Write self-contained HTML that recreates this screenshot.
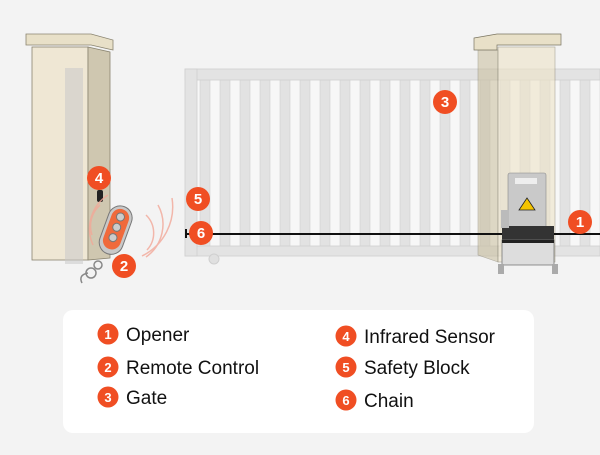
<!DOCTYPE html>
<html><head><style>
body{margin:0;width:600px;height:450px;overflow:hidden;background:#f3f3f3;font-family:"Liberation Sans",sans-serif}
</style></head><body>
<svg width="600" height="450" viewBox="0 0 600 450" xmlns="http://www.w3.org/2000/svg">
<defs>
<pattern id="pk" x="197" y="0" width="20" height="450" patternUnits="userSpaceOnUse">
<rect x="0" y="0" width="20" height="450" fill="#f7f7f7"/>
<rect x="3" y="0" width="10" height="450" fill="#e2e2e2" stroke="#d0d0d0" stroke-width="0.6"/>
</pattern>
</defs>
<rect width="600" height="450" fill="#f3f3f3"/>
<!-- gate -->
<rect x="197" y="80" width="403" height="166" fill="url(#pk)"/>
<rect x="185" y="69" width="415" height="11" fill="#e3e3e3" stroke="#cfcfcf" stroke-width="0.8"/>
<rect x="185" y="246" width="415" height="10" fill="#e3e3e3" stroke="#cfcfcf" stroke-width="0.8"/>
<rect x="185" y="69" width="12" height="187" fill="#e3e3e3" stroke="#cfcfcf" stroke-width="0.8"/>
<circle cx="214" cy="259" r="5" fill="#e0e0e0" stroke="#cfcfcf"/>
<!-- left pillar -->
<rect x="32" y="47" width="56" height="213" fill="#efe7d4" stroke="#8a8470" stroke-width="0.8"/>
<polygon points="88,47 110,52 110,258 88,260" fill="#cfc7b0" stroke="#8a8470" stroke-width="0.8"/>
<polygon points="26,34 91,34 113,40 113,50 91,45 26,45" fill="#e8e0c8" stroke="#8a8470" stroke-width="0.8"/>
<rect x="65" y="68" width="18" height="196" fill="#c8c8c8" opacity="0.55"/>
<rect x="97" y="190" width="6" height="12" rx="2" fill="#222"/>
<!-- right pillar translucent -->
<polygon points="478,50 498,50 498,262 478,255" fill="#c8bd9c" opacity="0.55" stroke="#7a7460" stroke-width="0.6"/>
<rect x="498" y="47" width="57" height="215" fill="#eee4c8" opacity="0.6" stroke="#7a7460" stroke-width="0.6"/>
<polygon points="474,38 497,34 561,34 561,45 497,45 497,50 474,50" fill="#e8e0c8" stroke="#7a7460" stroke-width="0.7"/>
<!-- chain -->
<line x1="187" y1="234" x2="600" y2="234" stroke="#111" stroke-width="2"/>
<rect x="185" y="229" width="2" height="9" fill="#111"/>
<!-- motor -->
<rect x="508" y="173" width="38" height="58" rx="2" fill="#c9c9c9" stroke="#888" stroke-width="0.6"/>
<rect x="515" y="178" width="22" height="6" fill="#eee"/>
<polygon points="519,210 527,198 535,210" fill="#f4c400" stroke="#222" stroke-width="0.8"/>
<rect x="502" y="226" width="52" height="14" fill="#333"/>
<rect x="501" y="210" width="8" height="18" fill="#bbb"/>
<rect x="502" y="240" width="52" height="25" fill="#ddd" stroke="#777" stroke-width="0.8"/>
<rect x="502" y="240" width="52" height="3" fill="#222"/>
<rect x="498" y="264" width="6" height="10" fill="#aaa"/>
<rect x="552" y="264" width="6" height="10" fill="#aaa"/>
<!-- remote waves -->
<g fill="none" stroke="#f2a898" stroke-width="1.5" opacity="0.8">
<path d="M100,205 A28,28 0 0 0 92,235"/>
<path d="M108,195 A40,40 0 0 0 93,245"/>
<path d="M146,215 A25,25 0 0 1 147,250"/>
<path d="M158,205 A40,40 0 0 1 146,257"/>
<path d="M172,198 A55,55 0 0 1 142,256"/>
</g>
<!-- remote -->
<g transform="rotate(20 115 232)">
<rect x="103" y="205" width="24" height="50" rx="12" fill="#c8c8c8" stroke="#777"/>
<rect x="106" y="208" width="18" height="42" rx="9" fill="#f06a3c"/>
<circle cx="115" cy="216" r="4" fill="#ccc" stroke="#777"/>
<circle cx="115" cy="227" r="4" fill="#ccc" stroke="#777"/>
<circle cx="115" cy="238" r="4" fill="#ccc" stroke="#777"/>
</g>
<g fill="none" stroke="#888" stroke-width="1.5">
<circle cx="98" cy="265" r="4"/><circle cx="91" cy="273" r="5"/><path d="M82,283 q-4,-8 6,-10"/>
</g>
<!-- markers -->
<g font-family="Liberation Sans,sans-serif" font-weight="bold" font-size="15" fill="#fff" text-anchor="middle">
<circle cx="580" cy="222" r="12" fill="#f04e23"/><text x="580" y="227">1</text>
<circle cx="124" cy="266" r="12" fill="#f04e23"/><text x="124" y="271">2</text>
<circle cx="445" cy="102" r="12" fill="#f04e23"/><text x="445" y="107">3</text>
<circle cx="99" cy="178" r="12" fill="#f04e23"/><text x="99" y="183">4</text>
<circle cx="198" cy="199" r="12" fill="#f04e23"/><text x="198" y="204">5</text>
<circle cx="201" cy="233" r="12" fill="#f04e23"/><text x="201" y="238">6</text>
</g>
<!-- legend -->
<rect x="63" y="310" width="471" height="123" rx="10" fill="#fff"/>
<g font-family="Liberation Sans,sans-serif" font-weight="bold" font-size="13" fill="#fff" text-anchor="middle">
<circle cx="108" cy="334" r="10.5" fill="#f04e23"/><text x="108" y="339">1</text>
<circle cx="108" cy="367" r="10.5" fill="#f04e23"/><text x="108" y="372">2</text>
<circle cx="108" cy="397" r="10.5" fill="#f04e23"/><text x="108" y="402">3</text>
<circle cx="346" cy="336" r="10.5" fill="#f04e23"/><text x="346" y="341">4</text>
<circle cx="346" cy="367" r="10.5" fill="#f04e23"/><text x="346" y="372">5</text>
<circle cx="346" cy="400" r="10.5" fill="#f04e23"/><text x="346" y="405">6</text>
</g>
<g font-family="Liberation Sans,sans-serif" font-size="19" fill="#111">
<text x="126" y="341">Opener</text>
<text x="126" y="374">Remote Control</text>
<text x="126" y="404">Gate</text>
<text x="364" y="343">Infrared Sensor</text>
<text x="364" y="374">Safety Block</text>
<text x="364" y="407">Chain</text>
</g>
</svg>
</body></html>
